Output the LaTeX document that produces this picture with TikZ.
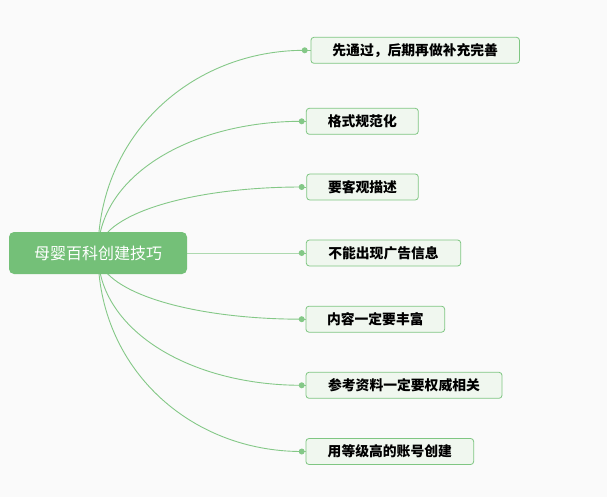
\documentclass[tikz,border=0pt]{standalone}
\usepackage{fontspec}
\newfontfamily\cjk{Noto Sans CJK SC}
\usetikzlibrary{calc}
\pgfdeclarelayer{bg}
\pgfsetlayers{bg,main}
\definecolor{linec}{HTML}{84C887}
\definecolor{rootc}{HTML}{74C078}
\definecolor{boxb}{HTML}{7FC682}
\definecolor{boxf}{HTML}{F0F7EF}
\definecolor{paper}{HTML}{FAFAFA}
\tikzset{
  rootbox/.style={fill=rootc, draw=none, rounded corners=5pt, minimum width=178pt, minimum height=42pt,
    inner sep=0pt, text=white, font=\cjk\fontsize{16}{18}\selectfont},
  leafbox/.style={fill=boxf, draw=boxb, line width=0.8pt, rounded corners=3pt, minimum height=26pt,
    inner sep=0pt, text=black, font=\cjk\bfseries\fontsize{13.8}{16}\selectfont},
  conn/.style={draw=linec, line width=0.9pt},
  dotc/.style={fill=linec, draw=none}
}
\begin{document}
\begin{tikzpicture}[x=1pt,y=-1pt]
\useasboundingbox (0,0) rectangle (607,497);
\node[rootbox] (root) at (98,253) {母婴百科创建技巧};
\node[leafbox, minimum width=208.5pt] (b1) at (415.2,50.3) {先通过，后期再做补充完善};
\node[leafbox, minimum width=112pt] (b2) at (362.3,121.3) {格式规范化};
\node[leafbox, minimum width=111.6pt] (b3) at (362.5,187) {要客观描述};
\node[leafbox, minimum width=154.4pt] (b4) at (383.5,253) {不能出现广告信息};
\node[leafbox, minimum width=138.7pt] (b5) at (375.3,319.2) {内容一定要丰富};
\node[leafbox, minimum width=196pt] (b6) at (404,385.3) {参考资料一定要权威相关};
\node[leafbox, minimum width=167.7pt] (b7) at (389.8,451.5) {用等级高的账号创建};
\coordinate (d1) at (304.7,50.3);
\coordinate (d2) at (301.7,121.3);
\coordinate (d3) at (301.7,187);
\coordinate (d4) at (301.7,253);
\coordinate (d5) at (301.7,319.2);
\coordinate (d6) at (301.7,385.3);
\coordinate (d7) at (301.7,451.5);
\begin{pgfonlayer}{bg}
\fill[paper] (0,0) rectangle (607,497);
\foreach \i in {1,...,7}{
  \draw[conn] (root.center) .. controls ($(root.center)!0.58!(root.center|-d\i)$) and ($(d\i)!0.55!(root.center|-d\i)$) .. (d\i);
  \draw[conn] (d\i) -- (b\i.west);
  \fill[dotc] (d\i) circle (3pt);
}
\end{pgfonlayer}
\end{tikzpicture}
\end{document}
